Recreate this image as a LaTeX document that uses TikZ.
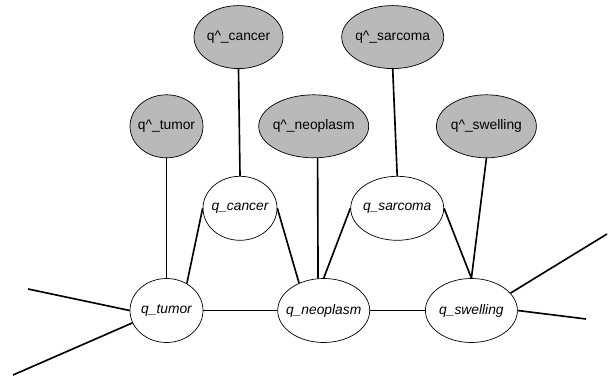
\documentclass[tikz,border=0pt]{standalone}
\usepackage{fontspec}
\setmainfont{Liberation Sans}
\usepackage{xcolor}
\usepackage{tikz}
\usetikzlibrary{positioning,shapes}
\definecolor{hatgray}{RGB}{185,185,185}
\tikzset{
  qnode/.style={ellipse,draw,line width=0.6pt,inner xsep=-0.45cm,inner ysep=0pt,
            minimum height=1.92cm,font=\fontsize{11.8}{14}\selectfont\itshape,fill=white},
  hatnode/.style={qnode,fill=hatgray,minimum height=1.89cm,
            font=\fontsize{11.8}{14}\selectfont},
  link/.style={line width=1.4pt},
}

\begin{document}
\begin{tikzpicture}
  \useasboundingbox (0,0) rectangle (18.39,11.31);
  % bottom row
  \node[qnode,minimum width=2.19cm] (qtumor) at (4.995,1.995) {q\_tumor};
  \node[qnode,minimum width=2.76cm,right=2.22cm of qtumor] (qneoplasm) {q\_neoplasm};
  \node[qnode,minimum width=2.76cm,right=1.65cm of qneoplasm] (qswelling) {q\_swelling};
  % middle row
  \node[qnode,minimum width=2.22cm,above=1.125cm of qtumor,xshift=2.205cm] (qcancer) {q\_cancer};
  \node[qnode,minimum width=2.79cm,above=1.125cm of qneoplasm,xshift=2.205cm] (qsarcoma) {q\_sarcoma};
  % grey nodes
  \node[hatnode,minimum width=2.19cm,above=3.6cm of qtumor] (htumor) {q\textasciicircum\_tumor};
  \node[hatnode,minimum width=3.3cm,above=3.6cm of qneoplasm,xshift=-0.3cm] (hneoplasm) {q\textasciicircum\_neoplasm};
  \node[hatnode,minimum width=3.0cm,above=3.6cm of qswelling,xshift=0.45cm] (hswelling) {q\textasciicircum\_swelling};
  \node[hatnode,minimum width=2.67cm,above=3.21cm of qcancer,xshift=-0.045cm] (hcancer) {q\textasciicircum\_cancer};
  \node[hatnode,minimum width=3.06cm,above=3.21cm of qsarcoma,xshift=-0.135cm] (hsarcoma) {q\textasciicircum\_sarcoma};
  % loose ends
  \coordinate (lup) at (0.84,2.64);
  \coordinate (llow) at (0.39,0.06);
  \coordinate (rup) at (18.21,4.29);
  \coordinate (rlow) at (17.58,1.74);

  \draw[link] (htumor.south) -- (qtumor.north);
  \draw[link] (hcancer.south) -- (qcancer.north);
  \draw[link] (hneoplasm.-83) -- (qneoplasm.100);
  \draw[link] (hsarcoma.south) -- (qsarcoma.north);
  \draw[link] (hswelling.south) -- (qswelling.north);
  \draw[link] (qcancer.west) -- (qtumor.53);
  \draw[link] (qcancer.east) -- (qneoplasm.132);
  \draw[link] (qsarcoma.west) -- (qneoplasm.north);
  \draw[link] (qsarcoma.east) -- (qswelling.north);
  \draw[link] (qtumor.east) -- (qneoplasm.west);
  \draw[link] (qneoplasm.east) -- (qswelling.west);
  \draw[link] (lup) -- (qtumor.west);
  \draw[link] (llow) -- (qtumor.200);
  \draw[link] (qswelling.24) -- (rup);
  \draw[link] (qswelling.east) -- (rlow);
\end{tikzpicture}
\end{document}
